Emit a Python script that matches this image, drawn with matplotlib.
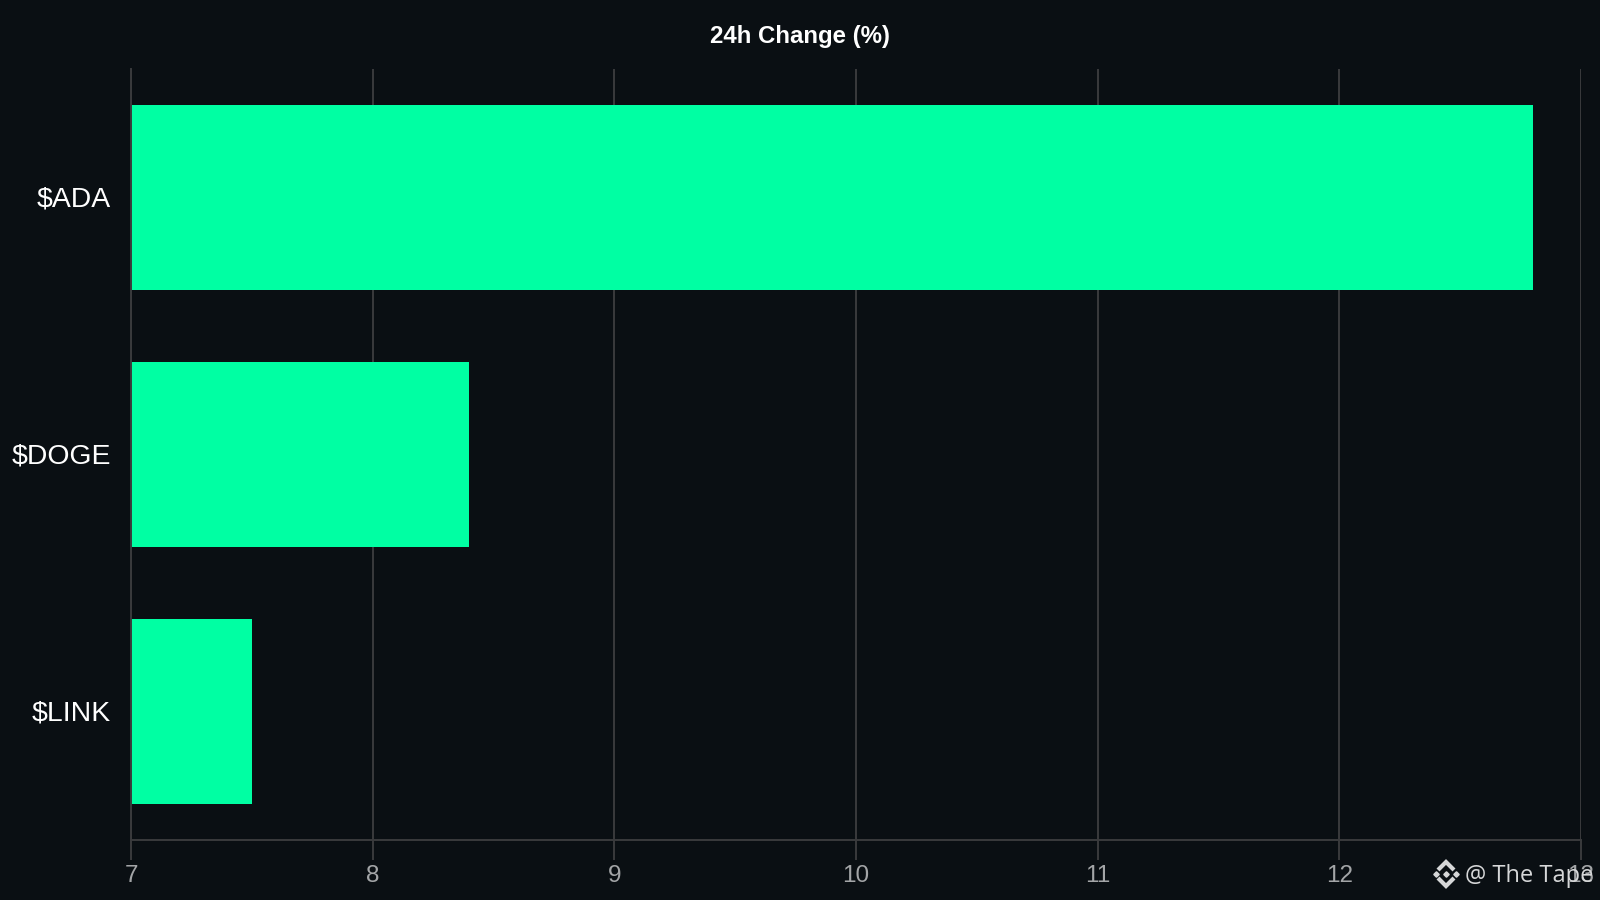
import matplotlib
matplotlib.use("Agg")
import matplotlib.pyplot as plt
from matplotlib.transforms import ScaledTranslation

categories = ["$ADA", "$DOGE", "$LINK"]
values = [12.8, 8.4, 7.5]
x_ticks = [7, 8, 9, 10, 11, 12, 13]

BG = "#0a0f13"
GRID = "#3a3b3d"
GREEN = "#00ffa3"

plt.rcParams["font.family"] = ["Liberation Sans", "DejaVu Sans"]
fig = plt.figure(figsize=(16, 9), dpi=100, facecolor=BG)
ax = fig.add_axes([131 / 1600, 1 - 840 / 900, 1450 / 1600, 771 / 900], facecolor=BG)

ypos = list(range(len(categories)))
ax.set_axisbelow(True)
ax.grid(axis="x", color=GRID, linewidth=1.4)
ax.barh(ypos, [v - x_ticks[0] for v in values], left=x_ticks[0], height=0.72, color=GREEN, zorder=2)

ax.set_xlim(x_ticks[0], x_ticks[-1])
ax.set_ylim(len(categories) - 0.5, -0.5)
ax.set_xticks(x_ticks)
ax.set_yticks(ypos)
ax.set_yticklabels(categories, fontsize=20.4, color="white")
ax.tick_params(axis="y", length=0, pad=14.5)
ax.tick_params(axis="x", length=14.4, width=1.4, color=GRID, labelsize=17.5,
               labelcolor="#a3a5a7", pad=3.4)
shift = ScaledTranslation(0, 1 / 100, fig.dpi_scale_trans)
for lab in ax.get_yticklabels():
    lab.set_transform(lab.get_transform() + shift)
for lab in ax.get_xticklabels():
    lab.set_zorder(5)
for side in ("top", "right"):
    ax.spines[side].set_visible(False)
for side in ("bottom", "left"):
    ax.spines[side].set_color(GRID)
    ax.spines[side].set_linewidth(1.4)

fig.text(0.5, 1 - 36 / 900, "24h Change (%)", color="white", fontsize=17.3,
         fontweight="bold", ha="center", va="center")

# Watermark
wm = "#d6d7d8"
fig.text(1465 / 1600, 1 - 876 / 900, "@ The Tape", color=wm, fontsize=17,
         family="Open Sans", ha="left", va="center", zorder=10)
cx, cy = 1446 / 1600, 1 - 874 / 900
for dx in (-10, 0, 10):
    fig.add_artist(plt.Line2D([cx + dx / 1600], [cy], marker="D", markersize=2.75,
                              color=wm, linestyle="none", transform=fig.transFigure))
for sign in (1, -1):
    xs = [-8, 0, 8]
    ys = [sign * 4, sign * 12, sign * 4]
    fig.add_artist(plt.Line2D([cx + x / 1600 for x in xs], [cy + y / 900 for y in ys],
                              color=wm, linewidth=3.0, transform=fig.transFigure,
                              solid_joinstyle="miter", solid_capstyle="butt"))

fig.savefig("out.png", dpi=100, facecolor=BG)
